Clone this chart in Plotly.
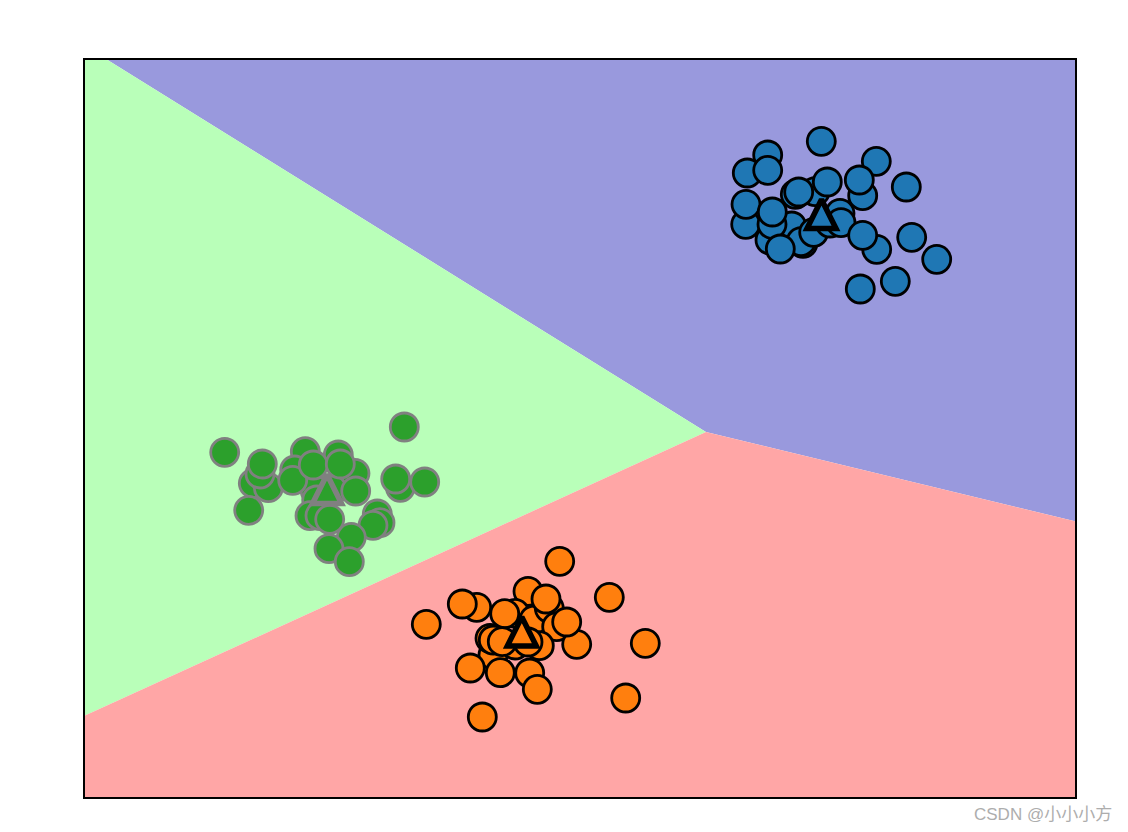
import plotly.graph_objects as go

# everything is read off the picture, axes have no scale so pixel-like units are used
blue_x = [821.3, 767.7, 747.3, 767.7, 876.3, 906.3, 862.7, 859.3, 815, 795.3, 798.7, 745.7, 746, 791.7, 770,
          772, 772.3, 803, 801, 780.3, 813.7, 830, 840, 841, 827.3, 876.7, 862.7, 911.7, 936.7, 895.3, 860.3]
blue_y = [141.3, 155, 173, 170.3, 161.3, 187, 195.7, 180, 191.7, 194.3, 192, 224.3, 204.3, 226, 240,
          224.3, 212, 243.3, 241.7, 249, 232.3, 223, 213.3, 222.7, 182, 249.3, 235.3, 237.3, 259.3, 281.3, 289]

orange_x = [559.7, 609.3, 426.3, 476.7, 462.3, 493, 528, 515, 504.7, 534, 549.3, 546, 556.7, 576.7, 566.7, 645.3,
            539.3, 490, 493.3, 515, 528, 502.3, 470.3, 500.3, 529.7, 537.3, 625.7, 482.3]
orange_y = [561.3, 597.3, 624.3, 607.3, 604, 655, 591.3, 613.3, 613.7, 620, 608.3, 599, 626.7, 644.3, 622, 643.3,
            645.7, 638.3, 640, 645, 642, 641.7, 668, 672.7, 673, 689.3, 698, 717]

green_x = [224.7, 404.3, 305.3, 338.3, 294.7, 253.3, 268.3, 260, 262.3, 333, 315, 292.7, 355, 355.7, 313.3, 340.3,
           248.7, 400.3, 424.7, 395.7, 316.7, 310, 320, 377.3, 380, 373, 351.3, 329, 349.3, 329.7]
green_y = [452.3, 427, 451.7, 455, 470, 483.3, 487.7, 474, 464, 490, 490, 480.3, 473.3, 491, 465, 464,
           510.3, 487.3, 482, 479, 500, 515.7, 515.7, 514, 522.7, 525.3, 537.3, 548.7, 561.7, 519.3]

center_x = [821.5, 521.8, 327]
center_y = [214, 631.5, 489]

# decision regions
region_blue_x = [106, 1076, 1076, 706]
region_blue_y = [59, 59, 521.5, 432]
region_green_x = [84, 106, 706, 84]
region_green_y = [59, 59, 432, 716]
region_red_x = [84, 706, 1076, 1076, 84]
region_red_y = [716, 432, 521.5, 798, 798]

fig = go.Figure()

for rx, ry, col in [(region_blue_x, region_blue_y, '#9999dd'),
                    (region_green_x, region_green_y, '#b9ffb9'),
                    (region_red_x, region_red_y, '#ffa6a6')]:
    fig.add_trace(go.Scatter(x=rx, y=ry, mode='lines', fill='toself', fillcolor=col,
                             line=dict(width=0), hoverinfo='skip'))

for px, py, col, edge in [(blue_x, blue_y, '#1f77b4', 'black'),
                          (orange_x, orange_y, '#ff7f0e', 'black'),
                          (green_x, green_y, '#2ca02c', 'gray')]:
    fig.add_trace(go.Scatter(x=px, y=py, mode='markers',
                             marker=dict(size=28, color=col, line=dict(color=edge, width=2.8))))

# matplotlib style triangle, plotly's own triangle-up is too squat
half = 14.5
for cx, cy, col, edge in zip(center_x, center_y, ['#1f77b4', '#ff7f0e', '#2ca02c'], ['black', 'black', 'gray']):
    fig.add_trace(go.Scatter(x=[cx - half, cx + half, cx, cx - half, cx + half],
                             y=[cy + half, cy + half, cy - half, cy + half, cy + half],
                             mode='lines', fill='toself', fillcolor=col,
                             line=dict(color=edge, width=5.5)))

fig.update_xaxes(range=[85, 1075], showticklabels=False, ticks='', showgrid=False, zeroline=False,
                 showline=True, mirror=True, linecolor='black', linewidth=2)
fig.update_yaxes(range=[797, 60], showticklabels=False, ticks='', showgrid=False, zeroline=False,
                 showline=True, mirror=True, linecolor='black', linewidth=2)

fig.update_layout(
    width=1112,
    height=816,
    margin=dict(l=77, r=45, t=52, b=27),
    showlegend=False,
    paper_bgcolor='white',
    plot_bgcolor='white',
    annotations=[dict(text='CSDN @小小小方', xref='paper', yref='paper', x=1.039, y=-0.0235,
                      xanchor='right', yanchor='middle', showarrow=False,
                      font=dict(family='Liberation Sans, Noto Sans CJK SC', size=17, color='#adadad'))],
)

fig.write_html("out.html")
